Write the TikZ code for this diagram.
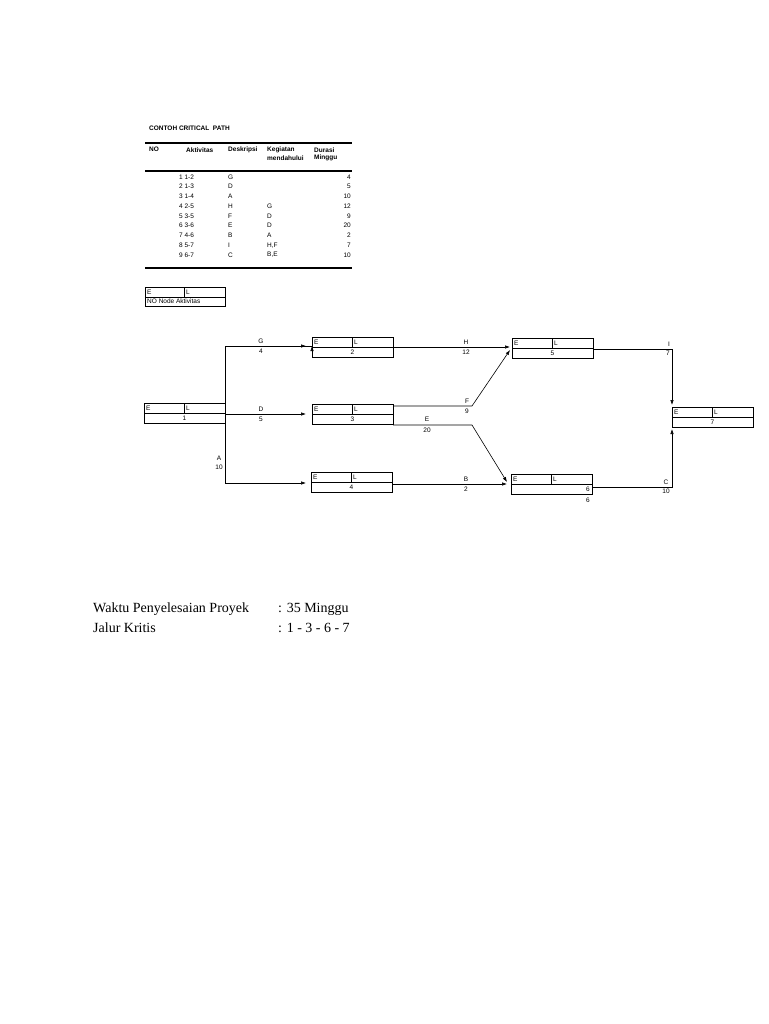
\documentclass[tikz,border=0pt]{standalone}
\usepackage{fontspec}
\setmainfont{Liberation Serif}
\newfontfamily\arial{Liberation Sans}
\usetikzlibrary{arrows.meta}
\begin{document}
\begin{tikzpicture}[x=1pt,y=-1pt,
  sm/.style={font=\arial\fontsize{6.5}{7}\selectfont,inner sep=0pt},
  tt/.style={font=\fontsize{14}{16}\selectfont,inner sep=0pt,anchor=west},
  conn/.style={line width=0.6pt,-{Latex[length=5pt,width=3.5pt]}},
  ln/.style={line width=0.6pt},
  boxl/.style={line width=1pt}]
\useasboundingbox (0,0) rectangle (768,1024);
% table
\node[sm,anchor=west,font=\arial\bfseries\fontsize{6.5}{7}\selectfont] (title) at (149,128) {CONTOH CRITICAL\ \ PATH};
\draw[line width=1.5pt] (145,143) -- (352,143);
\node[sm,anchor=west,font=\arial\bfseries\fontsize{6.5}{7}\selectfont] (hno) at (149,149) {NO};
\node[sm,anchor=west,font=\arial\bfseries\fontsize{6.5}{7}\selectfont] (hak) at (186,150) {Aktivitas};
\node[sm,anchor=west,font=\arial\bfseries\fontsize{6.5}{7}\selectfont] (hde) at (228,150) {Deskripsi};
\node[sm,anchor=west,font=\arial\bfseries\fontsize{6.5}{7}\selectfont] (hke) at (267,150) {Kegiatan};
\node[sm,anchor=west,font=\arial\bfseries\fontsize{6.5}{7}\selectfont] (hke2) at (267,158) {mendahului};
\node[sm,anchor=west,font=\arial\bfseries\fontsize{6.5}{7}\selectfont] (hdu) at (314,150) {Durasi};
\node[sm,anchor=west,font=\arial\bfseries\fontsize{6.5}{7}\selectfont] (hdu2) at (314,158) {Minggu};
\draw[line width=1.5pt] (145,171) -- (352,171);
\foreach \n/\a/\d/\k/\u [count=\i from 0] in {1/1-2/G//4,2/1-3/D//5,3/1-4/A//10,4/2-5/H/G/12,5/3-5/F/D/9,6/3-6/E/D/20,7/4-6/B/A/2,8/5-7/I/{H,F}/7,9/6-7/C/{B,E}/10}{
  \node[sm,anchor=west] (r\n) at (179,{177+9.75*\i}) {\n\ \a};
  \node[sm,anchor=west] (d\n) at (228,{177+9.75*\i}) {\d};
  \node[sm,anchor=west] (k\n) at (267,{177+9.75*\i}) {\k};
  \node[sm,anchor=east] (u\n) at (351,{177+9.75*\i}) {\u};
}
\draw[line width=1.5pt] (145,268) -- (352,268);
% legend
\draw[boxl] (145,287) rectangle (225,306);
\draw[ln] (145,297) -- (225,297) (184,287) -- (184,297);
\node[sm,anchor=west] (lE) at (147,292) {E};
\node[sm,anchor=west] (lL) at (186,292) {L};
\node[sm,anchor=west] (lN) at (147,301.5) {NO Node Aktivitas};
% nodes
\foreach \nm/\x/\y in {1/144/403,2/312/337,3/312/404,4/311/472,5/512/338,6/511/474,7/672/407}{
  \draw[boxl] (\x,\y) rectangle ++(81,20);
  \draw[ln] (\x,\y+10) -- ++(81,0) (\x+40,\y) -- ++(0,10);
  \node[sm,anchor=west] (e\nm) at (\x+2,\y+5) {E};
  \node[sm,anchor=west] (l\nm) at (\x+42,\y+5) {L};
  \coordinate (n\nm) at (\x,\y);
}
\node[sm] (t1) at (184.5,418) {1};
\node[sm] (t2) at (352.5,352) {2};
\node[sm] (t3) at (352.5,419) {3};
\node[sm] (t4) at (351.5,487) {4};
\node[sm] (t5) at (552.5,353) {5};
\node[sm] (t6) at (588,489) {6};
\node[sm] (t6b) at (588,500) {6};
\node[sm] (t7) at (712.5,422) {7};
% connectors
\coordinate (j1) at (225,346);
\coordinate (j2) at (225,483);
\draw[ln] (j1) -- (j2);
\draw[conn] (j1) -- (n2|-j1) ++(0,0);
\draw[conn] (225,414) -- (306,414);
\draw[conn] (j2) -- (306,483);
\draw[conn] (225,346) -- (306,346);
\node[sm] (lG) at (261,341) {G}; \node[sm] (lG2) at (261,351) {4};
\node[sm] (lD) at (261,409) {D}; \node[sm] (lD2) at (261,419) {5};
\node[sm] (lA) at (219,458) {A}; \node[sm] (lA2) at (219,467) {10};
\draw[conn] (393,347) -- (510,347);
\node[sm] (lH) at (466,342) {H}; \node[sm] (lH2) at (466,352) {12};
\draw[conn] (393,406) -- (472,406) -- (510,350);
\node[sm] (lF) at (467,401) {F}; \node[sm] (lF2) at (467,411) {9};
\draw[conn] (393,425) -- (472,425) -- (507,482);
\node[sm] (lE2) at (427,419) {E}; \node[sm] (lE3) at (427,430) {20};
\draw[conn] (393,484) -- (507,484);
\node[sm] (lB) at (466,479) {B}; \node[sm] (lB2) at (466,489) {2};
\draw[conn] (593,349) -- (672,349) -- (672,405);
\node[sm] (lI) at (669,344) {I}; \node[sm] (lI2) at (668,353) {7};
\draw[conn] (593,487) -- (672,487) -- (672,429);
\node[sm] (lC) at (666,482) {C}; \node[sm] (lC2) at (666,491) {10};
% bottom text
\node[tt] (w1) at (93,609) {Waktu Penyelesaian Proyek};
\node[tt] (w2) at (278,609) {: 35 Minggu};
\node[tt] (j1t) at (93,628) {Jalur Kritis};
\node[tt] (j2t) at (278,628) {: 1 - 3 - 6 - 7};
\end{tikzpicture}
\end{document}
